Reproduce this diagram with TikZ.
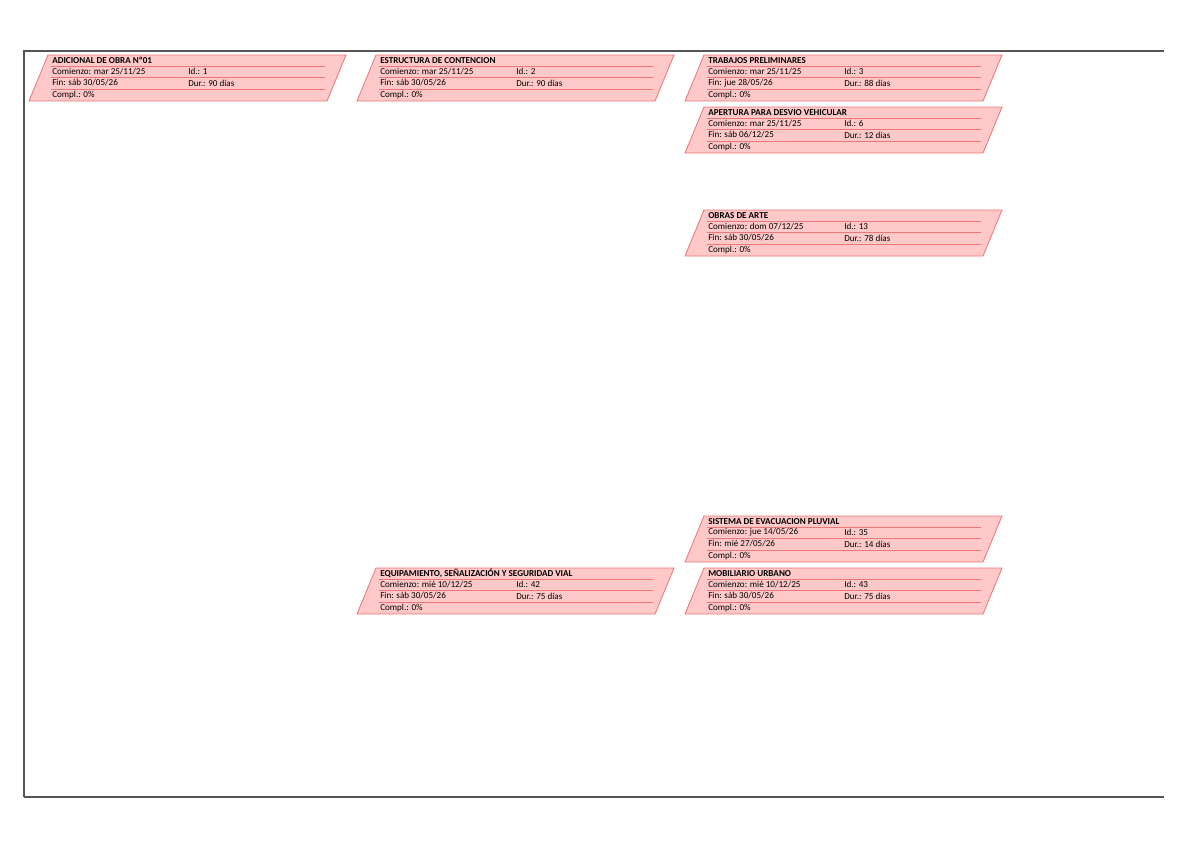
\documentclass[tikz,border=0pt]{standalone}
\usepackage{fontspec}
\setmainfont{Carlito}
\usetikzlibrary{positioning}

\definecolor{rosa}{RGB}{255,201,201}
\definecolor{borde}{RGB}{238,118,118}
\definecolor{marco}{RGB}{85,85,85}

% caja de tarea: nombre, x, y, titulo, comienzo, id, fin, duracion
\newcommand{\tarea}[8]{%
  \begin{scope}[shift={(#2,#3)}]
    \draw[caja] (19,0) -- (317,0) -- (298,46) -- (0,46) -- cycle;
    \draw[linea] (22,11) -- (296,11) (22,22) -- (296,22) (22,34) -- (296,34);
    \node[texto, font=\bfseries\fontsize{6.4}{7}\selectfont] (#1t) at (23,5.5) {#4};
    \node[texto] (#1c) at (23,16.5) {Comienzo: #5};
    \node[texto] (#1i) at (159,16.5) {Id.: #6};
    \node[texto] (#1f) at (23,28) {Fin: #7};
    \node[texto] (#1d) at (159,28) {Dur.: #8};
    \node[texto] (#1p) at (23,40) {Compl.: 0\%};
  \end{scope}}

\begin{document}
\begin{tikzpicture}[x=0.02475cm, y=-0.02475cm]
  \tikzstyle{caja}=[draw=borde, fill=rosa, line width=0.6pt, line join=miter]
  \tikzstyle{linea}=[draw=borde, line width=0.5pt]
  \tikzstyle{texto}=[anchor=west, inner sep=0pt, font=\fontsize{6.4}{7}\selectfont]

  \useasboundingbox (0,0) rectangle (1200,849);

  % Marco
  \draw[marco, line width=0.9pt] (24,797) -- (24,51) -- (1164,51);
  \draw[marco, line width=0.9pt] (24,797) -- (1164,797);

  % Tareas
  \tarea{a}{29}{55}{ADICIONAL DE OBRA Nº01}{mar 25/11/25}{1}{sáb 30/05/26}{90 días}
  \tarea{b}{357}{55}{ESTRUCTURA DE CONTENCION}{mar 25/11/25}{2}{sáb 30/05/26}{90 días}
  \tarea{c}{685}{55}{TRABAJOS PRELIMINARES}{mar 25/11/25}{3}{jue 28/05/26}{88 días}
  \tarea{d}{685}{107}{APERTURA PARA DESVIO VEHICULAR}{mar 25/11/25}{6}{sáb 06/12/25}{12 días}
  \tarea{e}{685}{210}{OBRAS DE ARTE}{dom 07/12/25}{13}{sáb 30/05/26}{78 días}
  \tarea{f}{685}{516}{SISTEMA DE EVACUACION PLUVIAL}{jue 14/05/26}{35}{mié 27/05/26}{14 días}
  \tarea{g}{685}{568}{MOBILIARIO URBANO}{mié 10/12/25}{43}{sáb 30/05/26}{75 días}
  \tarea{h}{357}{568}{EQUIPAMIENTO, SEÑALIZACIÓN Y SEGURIDAD VIAL}{mié 10/12/25}{42}{sáb 30/05/26}{75 días}
\end{tikzpicture}
\end{document}
